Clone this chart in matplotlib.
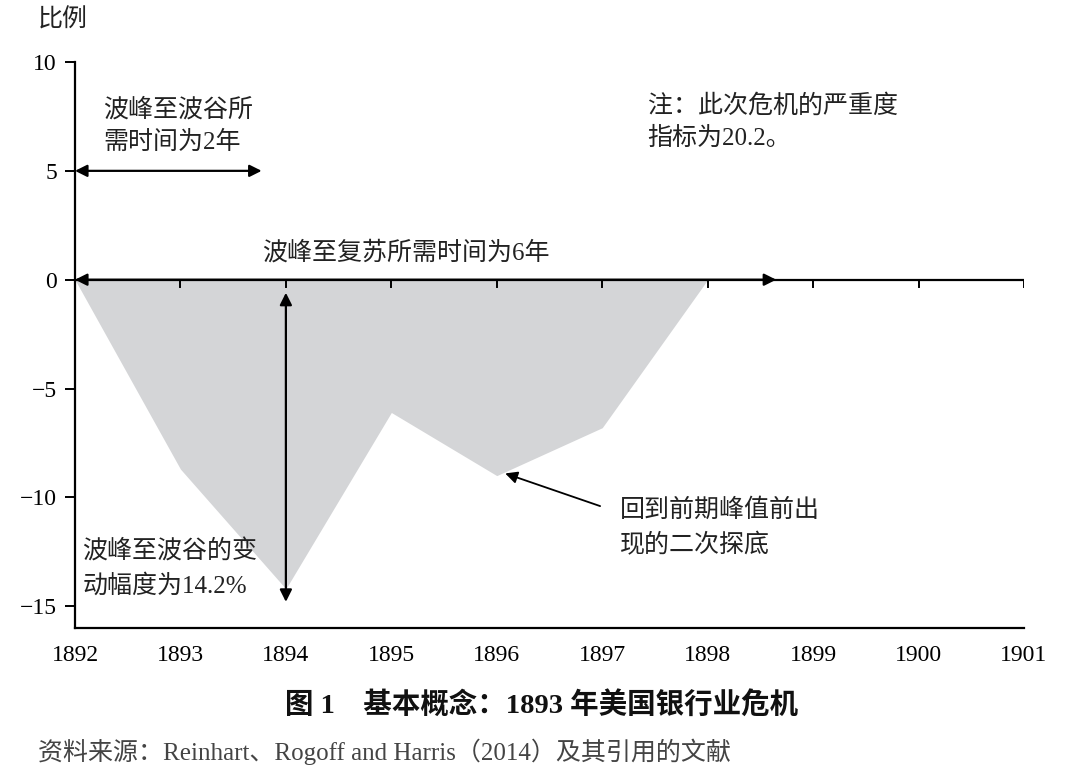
import matplotlib
matplotlib.use("Agg")
import matplotlib.pyplot as plt

plt.rcParams['font.family'] = ['Liberation Serif', 'Noto Sans CJK SC']
plt.rcParams['axes.unicode_minus'] = True

years = [1892, 1893, 1894, 1895, 1896, 1897, 1898]
values = [0, -8.7, -14.2, -6.1, -9.0, -6.8, 0]
xticks = list(range(1892, 1902))
yticks = [10, 5, 0, -5, -10, -15]

fig = plt.figure(figsize=(10.8, 7.74), dpi=100)
ax = fig.add_axes([75/1080, 1-628/774, (1024-75)/1080, (628-62)/774])
ax.set_xlim(1892, 1901)
ax.set_ylim(-16, 10)

ax.fill_between(years, values, 0, color='#d4d5d7', linewidth=0)

for s in ['top', 'right']:
    ax.spines[s].set_visible(False)
ax.spines['left'].set_linewidth(1.6)
ax.spines['bottom'].set_linewidth(1.6)

ax.set_yticks(yticks)
ax.set_yticklabels(['10', '5', '0', '\u22125', '\u221210', '\u221215'], fontsize=17)
ax.set_xticks(xticks)
ax.set_xticklabels([str(y) for y in xticks], fontsize=17)
ax.tick_params(axis='y', direction='out', length=7, width=1.4, pad=6)
ax.tick_params(axis='x', length=0, pad=12)

# zero line with ticks
ax.plot([1892, 1901], [0, 0], color='black', lw=1.6, zorder=3)
for x in xticks[1:]:
    ax.plot([x, x], [0, -0.32], color='black', lw=1.4, zorder=3)

arrow_kw = dict(arrowstyle='<|-|>', color='black', lw=1.6, mutation_scale=18, shrinkA=0, shrinkB=0)
ax.annotate('', xy=(1893.77, 5), xytext=(1892.0, 5), arrowprops=arrow_kw)
ax.annotate('', xy=(1898.65, 0), xytext=(1892.0, 0), arrowprops=arrow_kw)
ax.annotate('', xy=(1894, -0.6), xytext=(1894, -14.8), arrowprops=arrow_kw)
ax.annotate('', xy=(1896.08, -8.9), xytext=(1896.98, -10.4),
            arrowprops=dict(arrowstyle='-|>', color='black', lw=1.3, mutation_scale=18, shrinkA=0, shrinkB=0))

txt_kw = dict(fontsize=18, color='#222222', linespacing=1.55, va='center', ha='left')
ax.text(1892.27, 7.06, '波峰至波谷所\n需时间为2年', **txt_kw)
ax.text(1893.77, 1.24, '波峰至复苏所需时间为6年', **txt_kw)
ax.text(1897.43, 7.25, '注：此次危机的严重度\n指标为20.2。', **txt_kw)
ax.text(1892.07, -13.26, '波峰至波谷的变\n动幅度为14.2%', **txt_kw)
ax.text(1897.17, -11.4, '回到前期峰值前出\n现的二次探底', **txt_kw)

fig.text(38/1080, 1-20/774, '比例', fontsize=18, color='#222222', ha='left', va='center')
fig.text(542/1080, 1-705/774, '图 1　基本概念：1893 年美国银行业危机', fontsize=20.5,
         fontweight='bold', ha='center', va='center', color='#111111')
fig.text(38/1080, 1-752/774, '资料来源：Reinhart、Rogoff and Harris（2014）及其引用的文献',
         fontsize=18, ha='left', va='center', color='#444444')

fig.savefig('out.png', dpi=100)
